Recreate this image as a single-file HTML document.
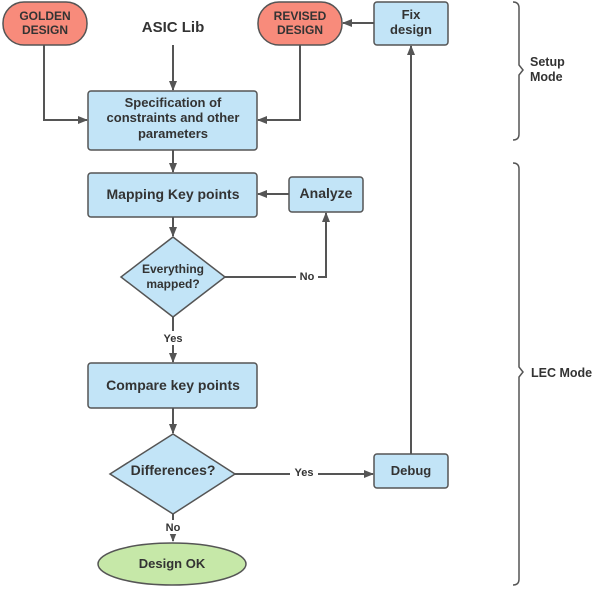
<!DOCTYPE html>
<html><head><style>body{margin:0;background:#fff}svg{display:block}text{font-family:"Liberation Sans",sans-serif;font-weight:bold;fill:#333}</style></head><body>
<svg width="600" height="592" viewBox="0 0 600 592">
<defs><marker id="a" markerWidth="10" markerHeight="10" refX="9" refY="5" orient="auto" markerUnits="userSpaceOnUse"><path d="M0,1 L10,5 L0,9 Z" fill="#555"/></marker></defs>
<g stroke="#555" stroke-width="2" fill="none">
<path d="M44 45 V120 H87" marker-end="url(#a)"/>
<path d="M300 45 V120 H258" marker-end="url(#a)"/>
<path d="M173 45 V90" marker-end="url(#a)"/>
<path d="M374 23 H343" marker-end="url(#a)"/>
<path d="M173 150 V172" marker-end="url(#a)"/>
<path d="M289 194 H258" marker-end="url(#a)"/>
<path d="M173 217 V236" marker-end="url(#a)"/>
<path d="M225 277 H326 V213" marker-end="url(#a)"/>
<path d="M173 317 V362" marker-end="url(#a)"/>
<path d="M173 408 V433" marker-end="url(#a)"/>
<path d="M235 474 H373" marker-end="url(#a)"/>
<path d="M411 454 V46" marker-end="url(#a)"/>
<path d="M173 514 V541" marker-end="url(#a)"/>
<path d="M513 2 Q519 2 519 8 V65 L523 70 L519 75 V134 Q519 140 513 140" stroke-width="1.5"/>
<path d="M513 163 Q519 163 519 169 V367 L523 372 L519 377 V579 Q519 585 513 585" stroke-width="1.5"/>
</g>
<g stroke="#555" stroke-width="1.5">
<rect x="3" y="2" width="84" height="43" rx="21" fill="#f88b7b"/>
<rect x="258" y="2" width="84" height="43" rx="21" fill="#f88b7b"/>
<rect x="374" y="2" width="74" height="43" rx="3" fill="#c2e4f7"/>
<rect x="88" y="91" width="169" height="59" rx="3" fill="#c2e4f7"/>
<rect x="88" y="173" width="169" height="44" rx="3" fill="#c2e4f7"/>
<rect x="289" y="177" width="74" height="35" rx="3" fill="#c2e4f7"/>
<path d="M173 237 L225 277 L173 317 L121 277 Z" fill="#c2e4f7"/>
<rect x="88" y="363" width="169" height="45" rx="3" fill="#c2e4f7"/>
<path d="M173 434 L235 474 L173 514 L110 474 Z" fill="#c2e4f7"/>
<rect x="374" y="454" width="74" height="34" rx="3" fill="#c2e4f7"/>
<ellipse cx="172" cy="564" rx="74" ry="21" fill="#c6e8a8"/>
</g>
<rect x="296" y="269" width="22" height="14" fill="#fff"/>
<rect x="160" y="331" width="26" height="14" fill="#fff"/>
<rect x="290" y="465" width="28" height="14" fill="#fff"/>
<rect x="162" y="520" width="22" height="14" fill="#fff"/>
<g text-anchor="middle" font-size="12">
<text x="45" y="20">GOLDEN</text><text x="45" y="34">DESIGN</text>
<text x="300" y="20">REVISED</text><text x="300" y="34">DESIGN</text>
<text x="411" y="19" font-size="13">Fix</text><text x="411" y="34" font-size="13">design</text>
<text x="173" y="32" font-size="15">ASIC Lib</text>
<text x="173" y="107" font-size="13">Specification of</text>
<text x="173" y="122" font-size="13">constraints and other</text>
<text x="173" y="138" font-size="13">parameters</text>
<text x="173" y="199" font-size="14">Mapping Key points</text>
<text x="326" y="198" font-size="14">Analyze</text>
<text x="173" y="273" font-size="12">Everything</text>
<text x="173" y="288" font-size="12">mapped?</text>
<text x="307" y="280" font-size="11">No</text>
<text x="173" y="342" font-size="11">Yes</text>
<text x="173" y="390" font-size="14">Compare key points</text>
<text x="173" y="475" font-size="14">Differences?</text>
<text x="304" y="476" font-size="11">Yes</text>
<text x="411" y="475" font-size="13">Debug</text>
<text x="173" y="531" font-size="11">No</text>
<text x="172" y="568" font-size="13">Design OK</text>
</g>
<g font-size="12.5">
<text x="530" y="66">Setup</text><text x="530" y="81">Mode</text>
<text x="531" y="377">LEC Mode</text>
</g>
</svg>
</body></html>
